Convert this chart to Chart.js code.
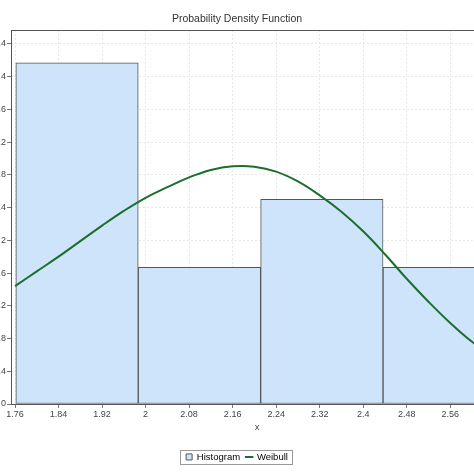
<!DOCTYPE html>
<html>
<head>
<meta charset="utf-8">
<script src="https://cdn.jsdelivr.net/npm/chart.js@4.4.0/dist/chart.umd.min.js"></script>
<style>
html, body { margin: 0; padding: 0; background: #fff; overflow: hidden; }
#wrap { position: relative; width: 474px; height: 474px; overflow: hidden; background: #fff; }
#pdf { position: absolute; left: -29px; top: 0; }
</style>
</head>
<body>
<div id="wrap"><canvas id="pdf" width="532" height="474"></canvas></div>
<script>
// histogram bins (edges) and density per bin
var binEdges = [1.7615, 1.9865, 2.2115, 2.4365, 2.6615];
var density = [4.17, 1.67, 2.5, 1.67];
// fitted Weibull curve
var curveX = [1.76, 1.80, 1.84, 1.88, 1.92, 1.96, 2.00, 2.04, 2.08, 2.12, 2.16, 2.20,
  2.24, 2.28, 2.32, 2.36, 2.40, 2.44, 2.48, 2.52, 2.56, 2.60, 2.64];
var curveY = [1.44, 1.62, 1.80, 1.99, 2.18, 2.36, 2.52, 2.65, 2.77, 2.86, 2.905, 2.90,
  2.84, 2.72, 2.55, 2.35, 2.11, 1.83, 1.53, 1.25, 0.99, 0.76, 0.57];
var xTicks = [1.76, 1.84, 1.92, 2, 2.08, 2.16, 2.24, 2.32, 2.4, 2.48, 2.56];
var yTicks = [0, 0.4, 0.8, 1.2, 1.6, 2, 2.4, 2.8, 3.2, 3.6, 4, 4.4];

var barFill = "rgb(206,228,250)";
var barLine = "#555";
var curveColor = "#1b6e2d";

var ctx = document.getElementById("pdf").getContext("2d");
Chart.defaults.font.family = "'Liberation Sans', Arial, sans-serif";
Chart.defaults.color = "#444";

// box round the legend, like the original
const legendFrame = {
  id: "legendFrame",
  afterDraw(chart) {
    const boxes = chart.legend && chart.legend.legendHitBoxes;
    if (!boxes || !boxes.length) return;
    const c = chart.ctx;
    const first = boxes[0], last = boxes[boxes.length - 1];
    const l = Math.round(first.left) - 5.5;
    const r = Math.round(last.left + last.width) + 4.5;
    const t = Math.round(first.top) - 1.5;
    const b = Math.round(first.top + first.height) + 2.5;
    c.save();
    c.strokeStyle = "#999";
    c.lineWidth = 1;
    c.strokeRect(l, t, r - l, b - t);
    c.restore();
  }
};

// dark frame round the plot area
const plotFrame = {
  id: "plotFrame",
  afterDatasetsDraw(chart) {
    const a = chart.chartArea, c = chart.ctx;
    c.save();
    c.strokeStyle = "#555";
    c.lineWidth = 1;
    c.strokeRect(Math.round(a.left) + 0.5, Math.round(a.top) + 0.5,
      Math.round(a.right - a.left), Math.round(a.bottom - a.top));
    c.restore();
  }
};

var bars = density.map((d, i) => ({ x: (binEdges[i] + binEdges[i + 1]) / 2, y: d }));
var curve = curveX.map((x, i) => ({ x: x, y: curveY[i] }));

var chart = new Chart(ctx, {
  type: "bar",
  data: {
    datasets: [
      {
        type: "line",
        label: "Weibull",
        data: curve,
        borderColor: curveColor,
        backgroundColor: curveColor,
        borderWidth: 2,
        pointRadius: 0,
        tension: 0.4,
        fill: false,
      },
      {
        type: "bar",
        label: "Histogram",
        data: bars,
        backgroundColor: barFill,
        borderColor: barLine,
        borderWidth: 1,
        borderSkipped: false,
        barThickness: "flex",
        categoryPercentage: 1,
        barPercentage: 1,
      },
    ],
  },
  options: {
    responsive: false,
    animation: false,
    layout: { padding: { left: 0, right: 0, top: 0, bottom: 2.3 } },
    scales: {
      x: {
        type: "linear",
        min: 1.7526,
        max: 2.657,
        offset: false,
        afterBuildTicks: (s) => { s.ticks = xTicks.map((v) => ({ value: v })); },
        ticks: { font: { size: 9 }, color: "#444", padding: 1, maxRotation: 0, autoSkip: false,
          callback: (v) => String(v) },
        grid: { offset: false, color: "#e8e8e8", tickColor: "#777", tickLength: 4 },
        border: { display: false, dash: [2, 2] },
        title: { display: true, text: "x", font: { size: 9.5 }, color: "#444",
          padding: { top: 1, bottom: 13 } },
      },
      y: {
        type: "linear",
        min: 0,
        max: 4.57,
        afterBuildTicks: (s) => { s.ticks = yTicks.map((v) => ({ value: v })); },
        afterFit: (s) => { s.width = 40; },
        ticks: { font: { size: 9 }, color: "#444", padding: 1, callback: (v) => String(v) },
        grid: { color: "#e8e8e8", tickColor: "#777", tickLength: 4 },
        border: { display: false, dash: [2, 2] },
      },
    },
    plugins: {
      tooltip: { enabled: false },
      title: {
        display: true,
        text: "Probability Density Function",
        color: "#333",
        font: { size: 10.5, weight: "normal" },
        padding: { top: 13.2, bottom: 4.2 },
      },
      legend: {
        position: "bottom",
        labels: {
          usePointStyle: true,
          boxWidth: 6,
          boxHeight: 6,
          padding: 6,
          color: "#222",
          font: { size: 9.5 },
          generateLabels: () => [
            { text: "Histogram", fillStyle: barFill, strokeStyle: barLine, lineWidth: 1,
              pointStyle: "rect", hidden: false, datasetIndex: 1 },
            { text: "Weibull", fillStyle: curveColor, strokeStyle: curveColor, lineWidth: 2,
              pointStyle: "line", hidden: false, datasetIndex: 0 },
          ],
        },
      },
    },
  },
  plugins: [plotFrame, legendFrame],
});
</script>
</body>
</html>
